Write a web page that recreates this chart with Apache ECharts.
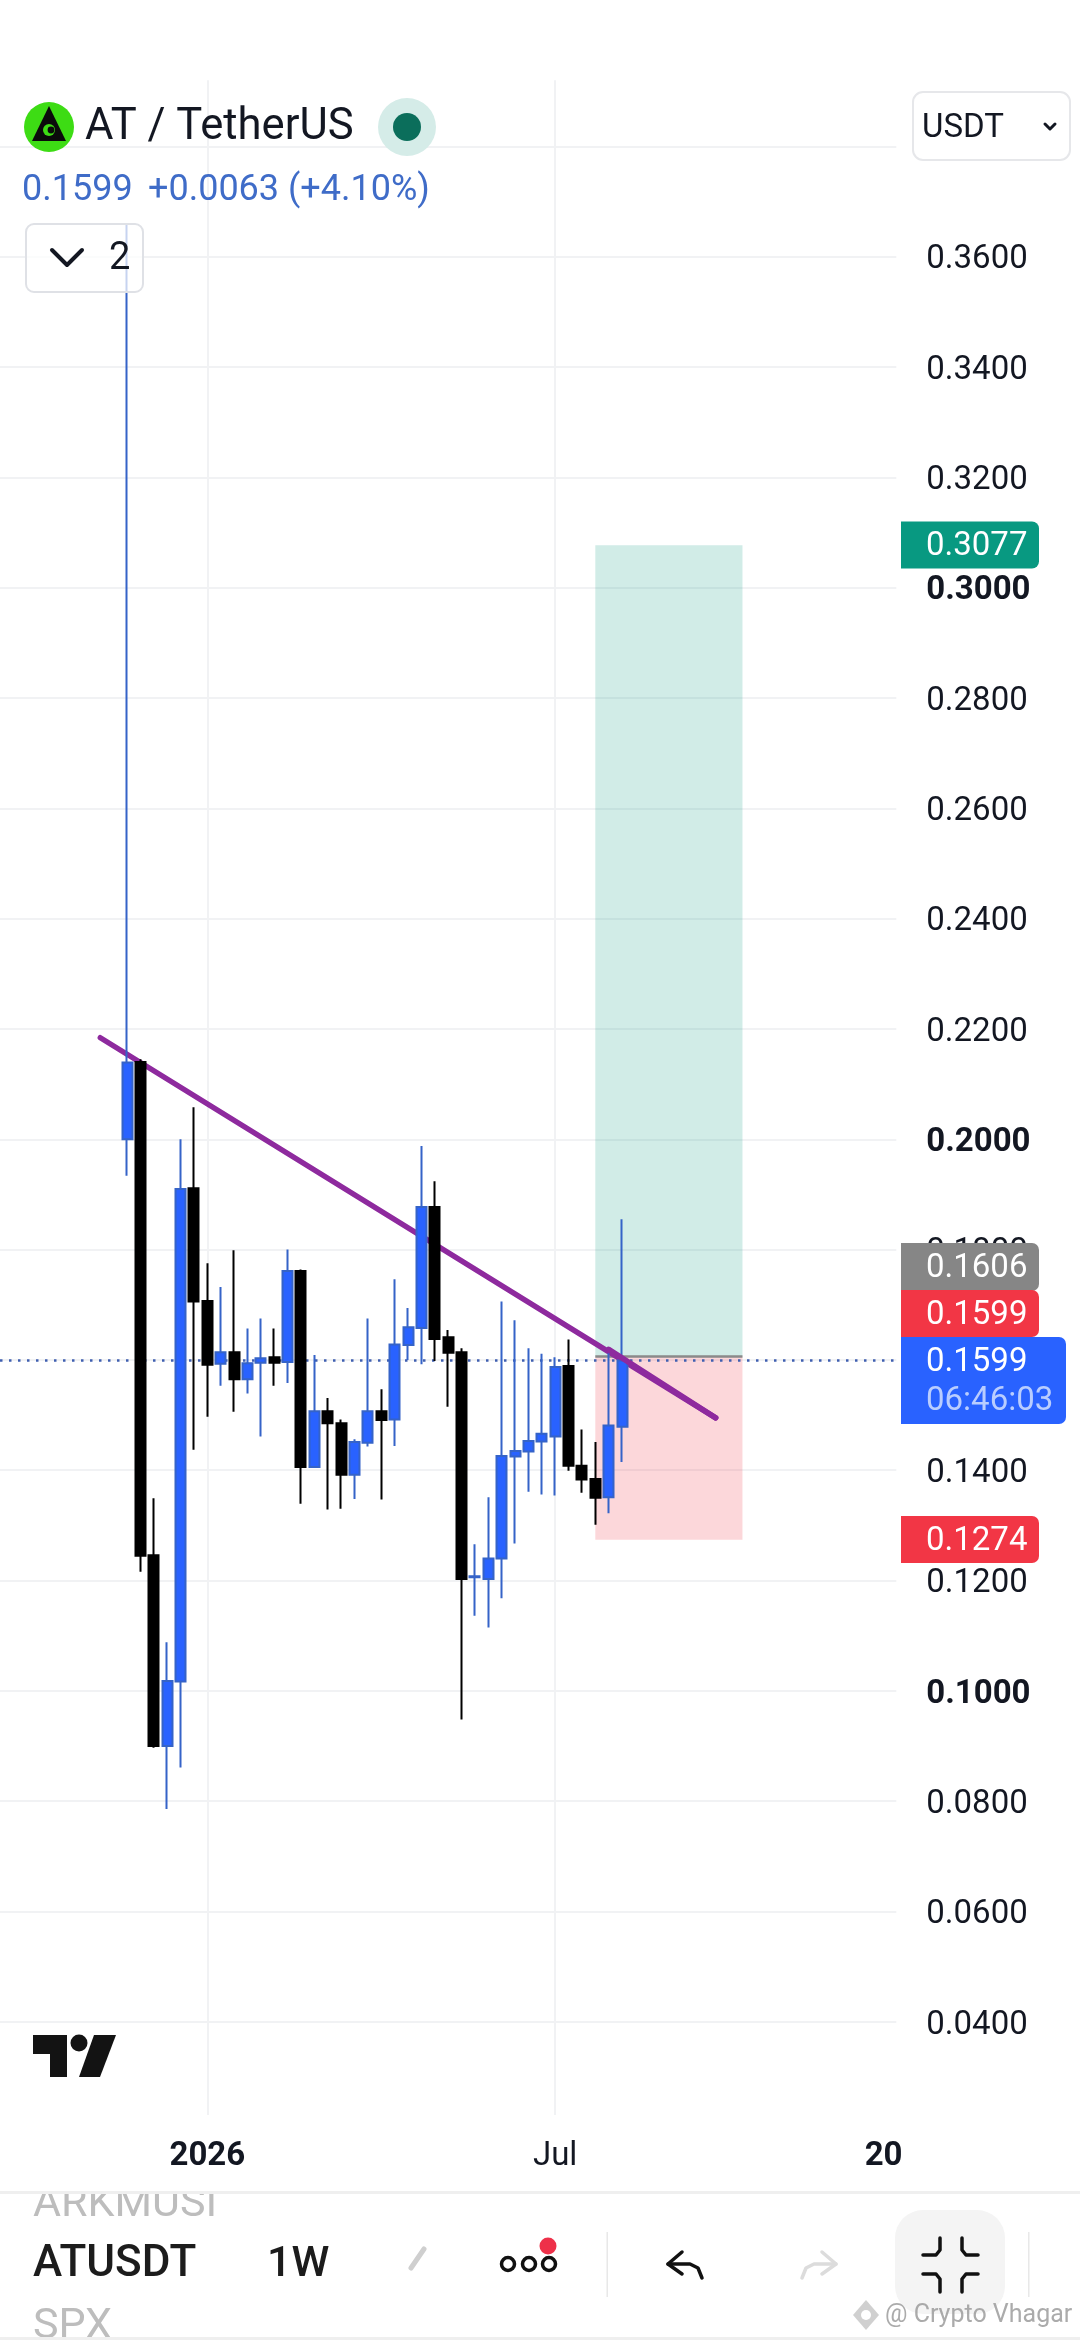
<!DOCTYPE html>
<html><head><meta charset="utf-8">
<style>html,body{margin:0;padding:0;background:#fff}#c{width:1080px;height:2340px}</style>
<script src="https://cdn.jsdelivr.net/npm/echarts@6/dist/echarts.min.js"></script>
</head><body><div id="c"></div>
<script>
const opens  = [.2000,.2140,.1246,.0900,.1017,.1911,.1707,.1593,.1614,.1565,.1595,.1605,.1596,.1761,.1406,.1507,.1485,.1392,.1450,.1507,.1492,.1627,.1658,.1877,.1641,.1614,.1206,.1203,.1240,.1425,.1434,.1452,.1461,.1589,.1408,.1384,.1351,.1479];
const closes = [.2139,.1245,.0900,.1018,.1910,.1706,.1591,.1614,.1565,.1594,.1603,.1595,.1761,.1406,.1507,.1485,.1392,.1451,.1507,.1491,.1628,.1659,.1877,.1638,.1613,.1203,.1208,.1240,.1426,.1435,.1453,.1466,.1587,.1408,.1383,.1350,.1481,.1599];
const lows   = [.1934,.1216,.0897,.0786,.0861,.1437,.1497,.1553,.1506,.1539,.1461,.1553,.1558,.1339,.1406,.1329,.1330,.1348,.1443,.1347,.1444,.1600,.1592,.1598,.1515,.0948,.1136,.1115,.1168,.1267,.1361,.1356,.1354,.1399,.1359,.1301,.1322,.1415];
const highs  = [.3659,.2145,.1349,.1088,.2000,.2058,.1775,.1732,.1799,.1657,.1675,.1657,.1800,.1764,.1609,.1531,.1492,.1456,.1675,.1547,.1746,.1694,.1988,.1924,.1654,.1621,.1266,.1351,.1706,.1672,.1621,.1611,.1605,.1637,.1474,.1451,.1612,.1855];
const leadBars = 9, totalBars = 67;
const timeLabels = {15:'2026', 41:'Jul', 66:'20'};
const boldTimeLabels = ['2026','20'];
const boldTicks = ['0.3000','0.2000','0.1000'];
const hiddenTicks = ['0.4000','0.3800','0.0200'];
const target = .3077, entry = .1606, stop = .1274, last = .1599;
const trendEnds = [[7,.2184],[53,.1495]];
const trendFront = [[45,.1619],[53,.1495]];
const areaFromTo = [44,55];
const yearLines = [15,41];
const paneTop = .3920, paneBottom = .0231;

const cats = Array.from({length:totalBars},(_,i)=>timeLabels[i]||'');
const candles = cats.map((_,i)=>{
  const k=i-leadBars;
  return (k>=0&&k<opens.length)?[opens[k],closes[k],lows[k],highs[k]]:['-','-','-','-'];
});
const F='Roboto, sans-serif';
const gridCol='#f1f2f4';
const chart=echarts.init(document.getElementById('c'),null,{renderer:'canvas'});

const T=(x,y,text,font,fill,extra)=>({type:'text',z:50,silent:true,style:Object.assign({x,y,text,font:font+' '+F,fill,verticalAlign:'middle',align:'left'},extra||{})});
const R=(x,y,w,h,fill,r,extra)=>({type:'rect',z:50,silent:true,shape:{x,y,width:w,height:h,r:r||0},style:Object.assign({fill},extra||{})});
const C=(cx,cy,r,fill,extra)=>({type:'circle',z:50,silent:true,shape:{cx,cy,r},style:Object.assign({fill},extra||{})});
const PL=(pts,stroke,w)=>({type:'polyline',z:50,silent:true,shape:{points:pts},style:{stroke,lineWidth:w,fill:null,lineCap:'round',lineJoin:'round'}});
const PG=(pts,fill)=>({type:'polygon',z:50,silent:true,shape:{points:pts},style:{fill}});

const tag=(y,h,w,fill)=>R(901,y,w,h,fill,[0,7,7,0]);
const graphics=[
  C(49,127,25,'#3ddc14'),
  PG([[49,106],[66,141],[32,141]],'#0b0b0b'),
  C(49,130,6,'#3ddc14'),C(51,130,3.4,'#0b0b0b'),
  T(85,128,'AT / TetherUS','400 43.6px','#131722'),
  C(407,127,29,'#d5ece8'),C(407,127,14,'#0b6e5b'),
  T(22,191,'0.1599','400 36px','#3f6cc8'),
  T(148,191,'+0.0063 (+4.10%)','400 36px','#3f6cc8'),
  R(26,224,117,68,'rgba(255,255,255,0.72)',8,{stroke:'#dfe1e6',lineWidth:2}),
  PL([[52,250],[67,265],[82,250]],'#131722',4),
  T(109,259,'2','400 38px','#131722'),
  R(913,92,157,68,'#ffffff',10,{stroke:'#e6e7ea',lineWidth:2}),
  T(922,129,'USDT','400 33px','#131722'),
  PL([[1045,124],[1050,129],[1055,124]],'#131722',3),
  tag(521.5,47,138,'#089981'),
  T(926,547,'0.3077','400 33px','#ffffff'),
  tag(1243,48,138,'#868686'),
  T(926,1269,'0.1606','400 33px','#ffffff'),
  tag(1290,47,138,'#f23645'),
  T(926,1316,'0.1599','400 33px','#ffffff'),
  tag(1337,87,165,'#2962ff'),
  T(926,1363,'0.1599','400 33px','#ffffff'),
  T(926,1402,'06:46:03','400 33px','#b9cdff'),
  tag(1516,47,138,'#f23645'),
  T(926,1542,'0.1274','400 33px','#ffffff'),
  PG([[33,2035],[67,2035],[67,2077],[50,2077],[50,2054],[33,2054]],'#131313'),
  C(79,2043,8.5,'#131313'),
  PG([[94,2035],[116,2035],[100,2077],[79,2077]],'#131313'),
  T(33,2205,'ARKMUSI','400 43px','#bdbdbd'),
  R(0,2172,1080,19,'#ffffff'),
  R(0,2191,1080,3,'#efefef'),
  T(33,2327,'SPX','400 43px','#bdbdbd'),
  R(0,2337,1080,3,'#efefef'),
  T(33,2265,'ATUSDT','500 44px','#1c1c1c'),
  T(267,2265,'1W','500 43px','#1c1c1c'),
  PL([[411,2268],[424,2249]],'#cfcfcf',5),
  C(508,2264,6.5,'#ffffff',{stroke:'#111',lineWidth:3.5}),
  C(529,2264,6.5,'#ffffff',{stroke:'#111',lineWidth:3.5}),
  C(549,2264,6.5,'#ffffff',{stroke:'#111',lineWidth:3.5}),
  C(548,2246,8.5,'#ee3049'),
  R(606.5,2232,1.5,65,'#e8e8e8'),
  PL([[682,2252],[668,2264],[682,2274]],'#111',3.5),
  PL([[668,2264],[690,2264],[698,2268],[702,2278]],'#111',3.5),
  PL([[822,2252],[836,2264],[822,2274]],'#dcdcdc',3.5),
  PL([[836,2264],[814,2264],[806,2268],[802,2278]],'#dcdcdc',3.5),
  R(895,2210,110,104,'#f4f4f4',28),
  PL([[940,2238],[940,2250],[936,2255],[923,2255]],'#111',3.5),
  PL([[962,2238],[962,2250],[966,2255],[978,2255]],'#111',3.5),
  PL([[923,2274],[936,2274],[940,2279],[940,2292]],'#111',3.5),
  PL([[978,2274],[966,2274],[962,2279],[962,2292]],'#111',3.5),
  R(1028,2232,1.5,65,'#e8e8e8'),
  PG([[866,2300],[879,2315],[866,2330],[853,2315]],'rgba(170,170,170,0.55)'),
  C(866,2315,5,'#ffffff'),
  T(885,2316,'@ Crypto Vhagar','400 25px','rgba(150,150,150,0.8)')
];

chart.setOption({
  animation:false,
  backgroundColor:'#ffffff',
  grid:{left:0,top:36.06,right:183.7,bottom:207.86,containLabel:false},
  xAxis:{type:'category',data:cats,boundaryGap:true,
    axisLine:{show:false},axisTick:{show:false},splitLine:{show:false},
    axisLabel:{interval:0,margin:8,hideOverlap:false,showMinLabel:true,showMaxLabel:true,
      fontFamily:F,fontSize:33,color:'#131722',
      formatter:v=>{
        if(!v) return '';
        if(v==='20') return '{s|20}';
        return boldTimeLabels.includes(v)?'{b|'+v+'}':v;
      },
      rich:{b:{fontFamily:F,fontSize:33,fontWeight:'bold',color:'#131722'},
            s:{fontFamily:F,fontSize:33,fontWeight:'bold',color:'#131722',padding:[0,12,0,0]}}}},
  yAxis:{type:'value',position:'right',min:.02,max:.40,interval:.02,scale:false,
    axisLine:{show:false},axisTick:{show:false},
    splitLine:{show:true,showMinLine:false,showMaxLine:false,lineStyle:{color:gridCol,width:2}},
    axisLabel:{margin:30,align:'left',padding:[7,0,0,0],fontFamily:F,fontSize:33,color:'#131722',
      formatter:v=>{
        const s=v.toFixed(4);
        if(hiddenTicks.includes(s)) return '';
        return boldTicks.includes(s)?'{b|'+s+'}':s;
      },
      rich:{b:{fontFamily:F,fontSize:33,fontWeight:'bold',color:'#131722'}}}},
  series:[
    {type:'line',name:'frame',z:1,silent:true,showSymbol:false,data:[],
     markLine:{z:1,silent:true,symbol:'none',animation:false,label:{show:false},
       lineStyle:{color:gridCol,width:2,type:'solid'},
       data:yearLines.map(x=>[{coord:[x,paneTop]},{coord:[x,paneBottom]}])},
     markArea:{z:1,silent:true,animation:false,label:{show:false},
       data:[
        [{coord:[areaFromTo[0],target],itemStyle:{color:'rgba(8,153,129,0.19)'}},{coord:[areaFromTo[1],entry]}],
        [{coord:[areaFromTo[0],entry],itemStyle:{color:'rgba(242,54,69,0.2)'}},{coord:[areaFromTo[1],stop]}]
       ]}},
    {type:'line',name:'trend',z:2,silent:true,showSymbol:false,connectNulls:true,
     data:trendEnds,lineStyle:{color:'#8e2a9e',width:5.5,cap:'round'}},
    {type:'line',name:'levels',z:2,silent:true,showSymbol:false,data:[],
     markLine:{z:2,silent:true,symbol:'none',animation:false,label:{show:false},
       data:[
        [{coord:[areaFromTo[0],entry],lineStyle:{color:'#8a8a8a',width:2.5,type:'solid'}},{coord:[areaFromTo[1],entry]}],
        {yAxis:last,lineStyle:{color:'#3f5fb0',width:2.5,type:[2.5,6.5]}}
       ]}},
    {type:'candlestick',name:'ATUSDT',z:3,silent:true,barWidth:10.5,data:candles,
     itemStyle:{color:'#2962ff',color0:'#000000',borderColor:'#3563c8',borderColor0:'#000000',borderWidth:2}},
    {type:'line',name:'trendFront',z:4,silent:true,showSymbol:false,
     data:trendFront,lineStyle:{color:'#8e2a9e',width:5.5,cap:'round'}}
  ],
  graphic:{elements:graphics}
});
</script></body></html>
